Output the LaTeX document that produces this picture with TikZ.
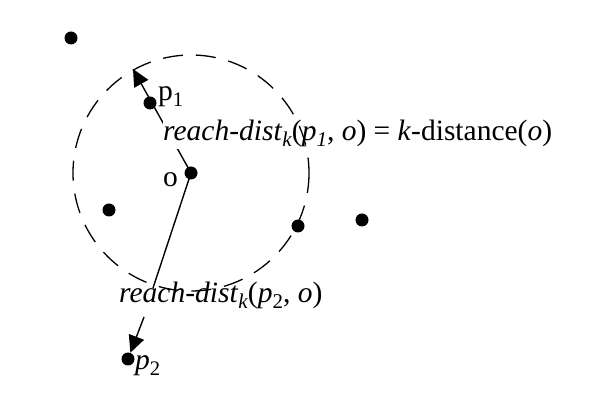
\documentclass[tikz,border=0pt]{standalone}
\usepackage{fontspec}
\setmainfont{Liberation Serif}
\usetikzlibrary{arrows.meta}

\newcommand{\lowsub}[1]{\raisebox{-6pt}{\fontsize{21}{21}\selectfont #1}}

\begin{document}
\begin{tikzpicture}[
    x=1pt, y=-1pt,
    dot/.style={circle, fill=black, inner sep=0pt, minimum size=13pt},
    lbl/.style={font=\fontsize{29.5}{31}\selectfont, inner sep=0pt},
    conn/.style={line width=1.4pt},
    arr/.style={conn, -{Triangle[length=17pt, width=16pt]}},
    ring/.style={line width=1.3pt, dash pattern=on 20pt off 13pt}
  ]
    \useasboundingbox (0,0) rectangle (600,411);
    % points
    \coordinate (o) at (191,173);
    \coordinate (r1) at (133,69);
    \coordinate (r2) at (153,288);
    \coordinate (q2) at (144,317);
    % distances
    \draw[arr] (o) -- (r1);
    \draw[conn] (o) -- (r2);
    \node[lbl, anchor=base west, fill=white, inner ysep=2pt] (reach1) at (163,141)
      {\textit{reach-dist}\lowsub{\textit{k}}(\textit{p}\lowsub{\textit{1}}, \textit{o}) = \textit{k}-distance(\textit{o})};
    \node[lbl, anchor=base west] (reach2) at (119,303)
      {\textit{reach-dist}\lowsub{\textit{k}}(\textit{p}\lowsub{2}, \textit{o})};
    \draw[ring] (o) circle [radius=118];
    % objects
    \node[dot] (oo) at (o) {};
    \node[dot] (p1) at (150,103) {};
    \node[dot] (p2) at (128,359) {};
    \node[dot] (n1) at (71,38) {};
    \node[dot] (n2) at (109,210) {};
    \node[dot] (n3) at (298,226) {};
    \node[dot] (n4) at (362,220) {};
    \draw[arr] (q2) -- (p2);
    % names
    \node[lbl, anchor=base west] (lo) at (163,187) {o};
    \node[lbl, anchor=base west] (lp1) at (158,101) {p\textsubscript{1}};
    \node[lbl, anchor=base west] (lp2) at (135,370) {\textit{p}\textsubscript{2}};
\end{tikzpicture}
\end{document}
